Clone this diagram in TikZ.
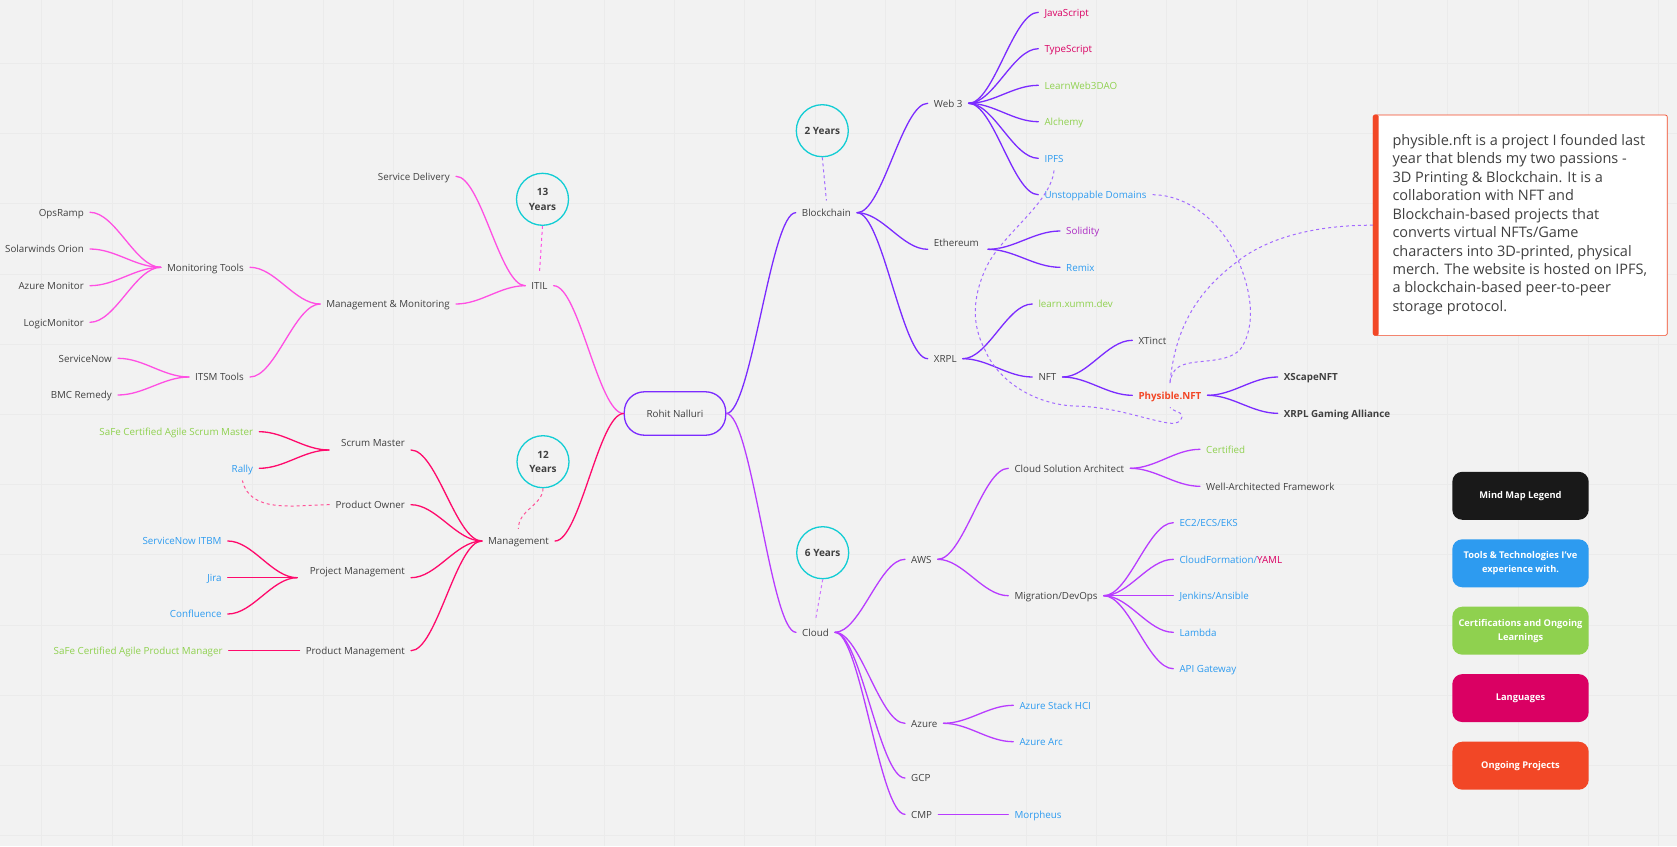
\documentclass[tikz,border=0pt]{standalone}
\usepackage{fontspec}
\usetikzlibrary{calc}
\setmainfont{Open Sans}
\definecolor{bgcol}{HTML}{F2F2F2}
\definecolor{gridcol}{HTML}{EBEBEB}
\definecolor{inkcol}{HTML}{404040}
\definecolor{toolcol}{HTML}{2D9BF0}
\definecolor{certcol}{HTML}{8FD14F}
\definecolor{langcol}{HTML}{DA0063}
\definecolor{projcol}{HTML}{F24726}
\definecolor{solcol}{HTML}{AC2BC4}
\definecolor{itilcol}{HTML}{FF4FE3}
\definecolor{mgmtcol}{HTML}{FF0A6C}
\definecolor{chaincol}{HTML}{7B2BFF}
\definecolor{cloudcol}{HTML}{B83CFF}
\definecolor{yearcol}{HTML}{12CDD4}
\begin{document}
\begin{tikzpicture}[x=1pt,y=-1pt]
            \tikzset{
                item/.style={font=\fontsize{9.8}{12}\selectfont,text=inkcol,inner xsep=6pt,inner ysep=0pt,minimum height=24pt,text height=9pt,text depth=1.5pt},
                bolditem/.style={item,font=\fontsize{9.8}{12}\selectfont\bfseries},
                tool/.style={item,text=toolcol},
                cert/.style={item,text=certcol},
                lang/.style={item,text=langcol},
                link/.style={line width=1.3pt,line cap=round},
                years/.style={circle,draw=yearcol,line width=1.3pt,minimum size=52pt,inner sep=0pt,align=center,text=inkcol,font=\fontsize{10}{14.5}\selectfont\bfseries},
                legend/.style={rectangle,rounded corners=10pt,minimum width=136.4pt,minimum height=48pt,inner sep=0pt,align=center,text=white,font=\fontsize{9.3}{14}\selectfont\bfseries},
                joined/.style={dashed,dash pattern=on 3pt off 3pt,line width=1pt},
                branch/.style={to path={let \p1=(\tikztostart),\p2=(\tikztotarget),\n1={0.36*(\x2-\x1)} in .. controls ($(\p1)+(\n1,0)$) and ($(\p2)-(\n1,0)$) .. (\tikztotarget)}},
            }
            \useasboundingbox (0,0) rectangle (1677,846);
            \fill[bgcol] (0,0) rectangle (1677,846);
            \foreach \k in {0,...,23}
                \draw[gridcol,line width=0.8pt] ({41.7+70.3*\k},0) -- ({41.7+70.3*\k},846);
            \foreach \k in {0,...,11}
                \draw[gridcol,line width=0.8pt] (0,{63.3+70.2*\k}) -- (1677,{63.3+70.2*\k});

            % centre
            \node[rectangle,draw=chaincol,line width=1.3pt,rounded corners=20pt,minimum width=101.4pt,minimum height=43.4pt,font=\fontsize{9.8}{12}\selectfont,text=inkcol] (root) at (675,413.5) {Rohit Nalluri};

            % left, upper tree
            \node[item,anchor=east] (ops) at (90,212.3) {OpsRamp};
            \node[item,anchor=east] (sol) at (90,249) {Solarwinds Orion};
            \node[item,anchor=east] (azm) at (90,285.7) {Azure Monitor};
            \node[item,anchor=east] (lgm) at (90,322.3) {LogicMonitor};
            \node[item,anchor=east] (snow) at (118,358.3) {ServiceNow};
            \node[item,anchor=east] (bmc) at (118,395) {BMC Remedy};
            \node[item,anchor=east] (mont) at (250,267.3) {Monitoring Tools};
            \node[item,anchor=east] (itsm) at (250,377) {ITSM Tools};
            \node[item,anchor=east] (mam) at (456,304) {Management \& Monitoring};
            \node[item,anchor=east] (sdel) at (456,176.3) {Service Delivery};
            \node[item,anchor=east] (itil) at (553.6,285.7) {ITIL};
            \node[years] (y13) at (542.5,199.3) {13\\Years};

            % left, lower tree
            \node[cert,anchor=east] (sasm) at (259.3,431.7) {SaFe Certified Agile Scrum Master};
            \node[tool,anchor=east] (rally) at (259.3,468.3) {Rally};
            \node[tool,anchor=east] (itbm) at (227.8,541) {ServiceNow ITBM};
            \node[tool,anchor=east] (jira) at (227.8,577.7) {Jira};
            \node[tool,anchor=east] (conf) at (227.8,614) {Confluence};
            \node[cert,anchor=east] (sapm) at (228.8,650.7) {SaFe Certified Agile Product Manager};
            \node[item,anchor=east] (sm) at (411,442.7) {Scrum Master};
            \node[item,anchor=east] (po) at (411,504.7) {Product Owner};
            \node[item,anchor=east] (prm) at (411,570.7) {Project Management};
            \node[item,anchor=east] (pdm) at (411,650.7) {Product Management};
            \node[item,anchor=east] (mgmt) at (555,541) {Management};
            \node[years] (y12) at (543,461.7) {12\\Years};

            % right, upper tree
            \node[item,anchor=west] (bc) at (795.7,212.7) {Blockchain};
            \node[item,anchor=west] (web) at (927.7,103.3) {Web 3};
            \node[item,anchor=west] (eth) at (927.7,242.7) {Ethereum};
            \node[item,anchor=west] (xrpl) at (927.7,358.7) {XRPL};
            \node[lang,anchor=west] (js) at (1038.3,12.3) {JavaScript};
            \node[lang,anchor=west] (ts) at (1038.3,48.7) {TypeScript};
            \node[cert,anchor=west] (lw) at (1038.3,85.3) {LearnWeb3DAO};
            \node[cert,anchor=west] (alc) at (1038.3,121.7) {Alchemy};
            \node[tool,anchor=west] (ipfs) at (1038.3,158.3) {IPFS};
            \node[tool,anchor=west] (ud) at (1038.3,194.7) {Unstoppable Domains};
            \node[item,text=solcol,anchor=west] (sold) at (1060,231) {Solidity};
            \node[tool,anchor=west] (rmx) at (1060,267.3) {Remix};
            \node[cert,anchor=west] (xumm) at (1032.3,304) {learn.xumm.dev};
            \node[item,anchor=west] (nft) at (1032.3,377) {NFT};
            \node[item,anchor=west] (xt) at (1132.3,340.3) {XTinct};
            \node[bolditem,text=projcol,anchor=west] (phys) at (1132.3,395.3) {Physible.NFT};
            \node[bolditem,anchor=west] (xsc) at (1277.7,377) {XScapeNFT};
            \node[bolditem,anchor=west] (xga) at (1277.7,413.3) {XRPL Gaming Alliance};
            \node[years] (y2) at (822.3,130.7) {2 Years};

            % right, lower tree
            \node[item,anchor=west] (cloud) at (796,632.3) {Cloud};
            \node[item,anchor=west] (aws) at (905,559.3) {AWS};
            \node[item,anchor=west] (az) at (905,723.3) {Azure};
            \node[item,anchor=west] (gcp) at (905,778) {GCP};
            \node[item,anchor=west] (cmp) at (905,814.3) {CMP};
            \node[item,anchor=west] (csa) at (1008.3,468.3) {Cloud Solution Architect};
            \node[item,anchor=west] (mig) at (1008.3,595.7) {Migration/DevOps};
            \node[cert,anchor=west] (crt) at (1200,449.3) {Certified};
            \node[item,anchor=west] (waf) at (1200,486.3) {Well-Architected Framework};
            \node[tool,anchor=west] (ec2) at (1173.3,522.7) {EC2/ECS/EKS};
            \node[tool,anchor=west] (cfn) at (1173.3,559.3) {CloudFormation/{\color{langcol}YAML}};
            \node[tool,anchor=west] (jen) at (1173.3,595.7) {Jenkins/Ansible};
            \node[tool,anchor=west] (lam) at (1173.3,632.3) {Lambda};
            \node[tool,anchor=west] (api) at (1173.3,668.7) {API Gateway};
            \node[tool,anchor=west] (ash) at (1013.3,705.3) {Azure Stack HCI};
            \node[tool,anchor=west] (arc) at (1013.3,741.7) {Azure Arc};
            \node[tool,anchor=west] (mor) at (1008.3,814.3) {Morpheus};
            \node[years] (y6) at (822.7,552.7) {6 Years};

            % note and legend
            \node[rectangle,draw=projcol,fill=white,line width=0.7pt,rounded corners=2pt,minimum width=294pt,minimum height=220.3pt,inner sep=0pt] (note) at (1520.3,225.2) {};
            \fill[projcol,rounded corners=1.5pt] (note.north west) rectangle ([xshift=5.7pt]note.south west);
            \node[anchor=north west,inner sep=0pt,align=left,text=inkcol,font=\fontsize{14.5}{18.45}\selectfont] (notetext) at (1392.3,134) {physible.nft is a project I founded last\\year that blends my two passions -\\3D Printing \& Blockchain. It is a\\collaboration with NFT and\\Blockchain-based projects that\\converts virtual NFTs/Game\\characters into 3D-printed, physical\\merch. The website is hosted on IPFS,\\a blockchain-based peer-to-peer\\storage protocol.};
            \node[legend,fill=black!90] (lg1) at (1520.5,495.8) {Mind Map Legend};
            \node[legend,fill=toolcol] (lg2) at (1520.5,563.3) {Tools \& Technologies I've\\experience with.};
            \node[legend,fill=certcol] (lg3) at (1520.5,630.7) {Certifications and Ongoing\\Learnings};
            \node[legend,fill=langcol] (lg4) at (1520.5,698.1) {Languages};
            \node[legend,fill=projcol] (lg5) at (1520.5,765.7) {Ongoing Projects};

            % connectors
            \foreach \kid in {ops,sol,azm,lgm}
                \draw[link,itilcol] (\kid.east) to[branch] (mont.west);
            \foreach \kid in {snow,bmc}
                \draw[link,itilcol] (\kid.east) to[branch] (itsm.west);
            \foreach \kid in {mont,itsm}
                \draw[link,itilcol] (\kid.east) to[branch] (mam.west);
            \foreach \kid in {sdel,mam}
                \draw[link,itilcol] (\kid.east) to[branch] (itil.west);
            \draw[link,itilcol] (itil.east) to[branch] (root.west);
            \draw[link,mgmtcol] (mgmt.east) to[branch] (root.west);
            \foreach \kid in {sasm,rally}
                \draw[link,mgmtcol] (\kid.east) to[branch] ([xshift=-6pt,yshift=-7.3pt]sm.west);
            \foreach \kid in {itbm,jira,conf}
                \draw[link,mgmtcol] (\kid.east) to[branch] ([xshift=-6.5pt,yshift=-7pt]prm.west);
            \draw[link,mgmtcol] (sapm.east) -- (pdm.west);
            \draw[link,mgmtcol] ([yshift=-7.3pt]sm.east) to[branch] (mgmt.west);
            \draw[link,mgmtcol] (po.east) to[branch] (mgmt.west);
            \draw[link,mgmtcol] ([yshift=-7pt]prm.east) to[branch] (mgmt.west);
            \draw[link,mgmtcol] (pdm.east) to[branch] (mgmt.west);
            \draw[link,chaincol] (root.east) to[branch] (bc.west);
            \draw[link,cloudcol] (root.east) to[branch] (cloud.west);
            \draw[link,chaincol] (bc.east) to[branch] (web.west);
            \draw[link,chaincol] (bc.east) to[branch] ([yshift=-6.6pt]eth.west);
            \draw[link,chaincol] (bc.east) to[branch] (xrpl.west);
            \foreach \kid in {js,ts,lw,alc,ipfs,ud}
                \draw[link,chaincol] (web.east) to[branch] (\kid.west);
            \foreach \kid in {sold,rmx}
                \draw[link,chaincol] ([xshift=3pt,yshift=-6.6pt]eth.east) to[branch] (\kid.west);
            \foreach \kid in {xumm,nft}
                \draw[link,chaincol] (xrpl.east) to[branch] (\kid.west);
            \foreach \kid in {xt,phys}
                \draw[link,chaincol] (nft.east) to[branch] (\kid.west);
            \foreach \kid in {xsc,xga}
                \draw[link,chaincol] (phys.east) to[branch] (\kid.west);
            \foreach \kid in {aws,az,gcp,cmp}
                \draw[link,cloudcol] (cloud.east) to[branch] (\kid.west);
            \foreach \kid in {csa,mig}
                \draw[link,cloudcol] (aws.east) to[branch] (\kid.west);
            \foreach \kid in {crt,waf}
                \draw[link,cloudcol] (csa.east) to[branch] (\kid.west);
            \foreach \kid in {ec2,cfn,jen,lam,api}
                \draw[link,cloudcol] (mig.east) to[branch] (\kid.west);
            \foreach \kid in {ash,arc}
                \draw[link,cloudcol] (az.east) to[branch] (\kid.west);
            \draw[link,cloudcol] (cmp.east) -- (mor.west);

            % dashed joins
            \draw[joined,itilcol] (y13.south) -- (itil.north);
            \draw[joined,mgmtcol!70] (y12.south) .. controls (543,505) and (518,510) .. (mgmt.north);
            \draw[joined,mgmtcol!70] (po.west) .. controls (295,505) and (250,514) .. (rally.south);
            \draw[joined,chaincol!70] (y2.south) -- (bc.north);
            \draw[joined,cloudcol!70] (y6.south) -- (cloud.north);
            \draw[joined,chaincol!70] (ipfs.south) .. controls (1050,205) and (1000,235) .. (985,270) .. controls (972,300) and (972,325) .. (985,350) .. controls (1000,385) and (1040,405) .. (1075,406) .. controls (1115,407) and (1140,418) .. (1168,423) .. controls (1180,425) and (1184,418) .. (1181,414) .. controls (1180,412) and (1175,412) .. (phys.south);
            \draw[joined,chaincol!70] (ud.east) .. controls (1190,195) and (1225,225) .. (1240,265) .. controls (1252,295) and (1255,325) .. (1242,347) .. controls (1232,362) and (1205,360) .. (1190,363) .. controls (1180,365) and (1172,368) .. (phys.north);
            \draw[joined,chaincol!70] (note.west) .. controls (1310,225) and (1265,240) .. (1238,261) .. controls (1195,293) and (1175,330) .. (phys.north);
        \end{tikzpicture}
\end{document}
